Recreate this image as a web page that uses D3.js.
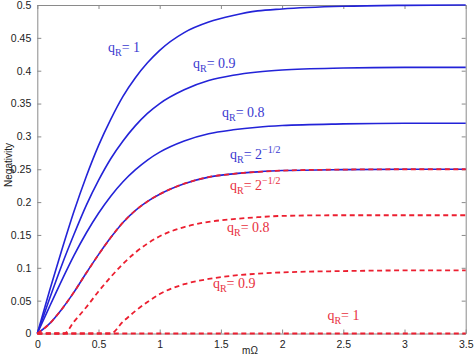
<!DOCTYPE html>
<html><head><meta charset="utf-8">
<script src="https://cdn.jsdelivr.net/npm/d3@7"></script>
<style>body{margin:0;background:#fff}svg{display:block}</style>
</head><body>
<script>
// ---- data ----
const xGrid   = [0,0.1,0.2,0.3,0.4,0.5,0.6,0.7,0.8,0.9,1.0,1.2,1.4,1.6,1.8,2.0,2.5,3.0,3.5];
const blueQ1   = [0,0.065,0.127,0.186,0.239,0.286,0.326,0.361,0.389,0.412,0.431,0.458,0.474,0.484,0.491,0.494,0.498,0.4995,0.5];
const blueQ09  = [0,0.053,0.104,0.151,0.195,0.233,0.266,0.293,0.316,0.335,0.350,0.371,0.385,0.393,0.398,0.401,0.404,0.405,0.405];
const blueQ08  = [0,0.041,0.081,0.119,0.153,0.183,0.209,0.231,0.249,0.264,0.276,0.293,0.304,0.310,0.314,0.3165,0.319,0.32,0.32];
const blueQinv = [0,0.015,0.037,0.063,0.092,0.120,0.146,0.169,0.187,0.201,0.212,0.228,0.238,0.243,0.246,0.248,0.2495,0.25,0.25];
const redQinv  = [0,0.015,0.037,0.063,0.092,0.120,0.146,0.169,0.187,0.201,0.212,0.228,0.238,0.243,0.246,0.248,0.2495,0.25,0.25];
const redQ08X  = [0,0.22,0.3,0.4,0.5,0.6,0.7,0.8,0.9,1.0,1.2,1.4,1.6,1.8,2.0,2.5,3.0,3.5];
const redQ08   = [0,0,0.018,0.040,0.064,0.086,0.106,0.123,0.137,0.148,0.162,0.170,0.174,0.177,0.179,0.180,0.180,0.180];
const redQ09X  = [0,0.6,0.7,0.8,0.9,1.0,1.2,1.4,1.6,1.8,2.0,2.5,3.0,3.5];
const redQ09   = [0,0,0.018,0.034,0.048,0.060,0.075,0.083,0.088,0.091,0.093,0.095,0.096,0.096];
const redQ1X   = [0,3.5];
const redQ1    = [0,0];
const xTicks = [0,0.5,1,1.5,2,2.5,3,3.5];
const yTicks = [0,0.05,0.1,0.15,0.2,0.25,0.3,0.35,0.4,0.45,0.5];
const labelText = ["1","0.9","0.8","2","2","0.8","0.9","1"];
const labelColor= ["blue","blue","blue","blue","red","red","red","red"];
const labelAt   = [[0.578,0.428],[1.272,0.404],[1.509,0.330],[1.574,0.266],[1.574,0.218],[1.55,0.154],[1.435,0.069],[2.37,0.0205]];

// ---- chart ----
const W=474,H=358;
const m={l:37.3,r:474-465.7,t:5,b:358-333.5};
const svg=d3.select("body").append("svg").attr("width",W).attr("height",H);
const x=d3.scaleLinear().domain([0,3.5]).range([m.l,W-m.r]);
const y=d3.scaleLinear().domain([0,0.5]).range([H-m.b,m.t]);
const BLUE="#2323d8", RED="#ec1f30";
const col={blue:"#3a3ad0",red:"#e8303e"};

const axisCol="#8a8a8a";
function styleAxis(g){
  g.select(".domain").attr("stroke",axisCol);
  g.selectAll(".tick line").attr("stroke",axisCol);
  g.selectAll(".tick text").attr("fill","#222").style("font-family","Liberation Sans, Arial, sans-serif").style("font-size","10.5px");
}
const fmt=d=>String(d);
svg.append("g").attr("transform",`translate(0,${H-m.b})`)
  .call(d3.axisBottom(x).tickValues(xTicks).tickFormat(fmt).tickSizeInner(-4).tickSizeOuter(0).tickPadding(7)).call(styleAxis);
svg.append("g").attr("transform",`translate(0,${m.t})`)
  .call(d3.axisTop(x).tickValues(xTicks).tickFormat("").tickSizeInner(-4).tickSizeOuter(0)).call(styleAxis);
svg.append("g").attr("transform",`translate(${m.l},0)`)
  .call(d3.axisLeft(y).tickValues(yTicks).tickFormat(fmt).tickSizeInner(-4).tickSizeOuter(0).tickPadding(6)).call(styleAxis);
svg.append("g").attr("transform",`translate(${W-m.r},0)`)
  .call(d3.axisRight(y).tickValues(yTicks).tickFormat("").tickSizeInner(-4).tickSizeOuter(0)).call(styleAxis);

const line=d3.line().x(d=>x(d[0])).y(d=>y(d[1])).curve(d3.curveMonotoneX);
const zip=(xs,ys)=>xs.map((v,i)=>[v,ys[i]]);
[blueQ1,blueQ09,blueQ08,blueQinv].forEach(s=>{
  svg.append("path").attr("d",line(zip(xGrid,s))).attr("fill","none").attr("stroke",BLUE).attr("stroke-width",1.6);
});
[[xGrid,redQinv],[redQ08X,redQ08],[redQ09X,redQ09],[redQ1X,redQ1]].forEach(([xs,ys])=>{
  svg.append("path").attr("d",line(zip(xs,ys))).attr("fill","none").attr("stroke",RED).attr("stroke-width",1.8).attr("stroke-dasharray","5,3.5");
});

// labels
labelText.forEach((t,i)=>{
  const tx=svg.append("text").attr("x",x(labelAt[i][0])).attr("y",y(labelAt[i][1]))
    .attr("fill",col[labelColor[i]]).style("font-family","Liberation Serif, Times New Roman, serif").style("font-size","14px");
  tx.append("tspan").text("q");
  tx.append("tspan").attr("dy",4).style("font-size","10px").text("R");
  tx.append("tspan").attr("dy",-4).text("= "+t);
  if(t==="2"){ tx.append("tspan").attr("dy",-6).style("font-size","10px").text("\u22121/2"); }
});

// axis titles
svg.append("text").attr("x",250).attr("y",354).attr("text-anchor","middle")
  .style("font-family","Liberation Sans, Arial, sans-serif").style("font-size","10px").attr("fill","#222").text("m\u03A9");
svg.append("text").attr("transform","translate(12,165) rotate(-90)").attr("text-anchor","middle")
  .style("font-family","Liberation Sans, Arial, sans-serif").style("font-size","10px").attr("fill","#222").text("Negativity");
</script>
</body></html>
